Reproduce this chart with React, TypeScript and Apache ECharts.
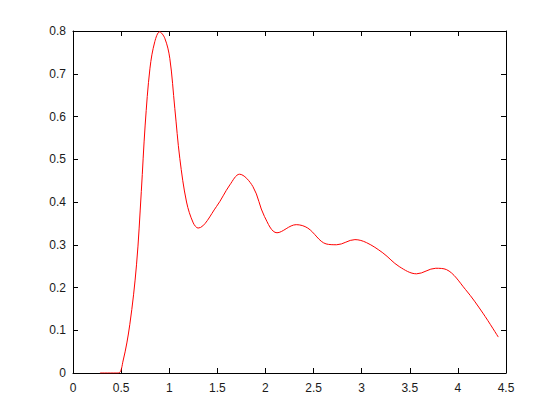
import React, { useEffect, useRef } from "react";
import * as echarts from "echarts";

// points
const xValues = [
  0.28, 0.47, 0.52, 0.59, 0.66, 0.71, 0.75, 0.8, 0.85, 0.9, 0.954, 1.006, 1.058, 1.11, 1.18, 1.25,
  1.3, 1.49, 1.63, 1.73, 1.87, 1.99, 2.12, 2.32, 2.44, 2.63, 2.74, 2.93, 3.05, 3.22, 3.39, 3.57,
  3.77, 3.88, 4.08, 4.26, 4.42,
];
const yValues = [
  0, 0, 0.028, 0.113, 0.253, 0.425, 0.58, 0.713, 0.775, 0.798, 0.783, 0.736, 0.619, 0.502, 0.4, 0.351,
  0.339, 0.389, 0.44, 0.465, 0.436, 0.366, 0.328, 0.347, 0.339, 0.302, 0.3, 0.312, 0.305, 0.281, 0.249,
  0.232, 0.245, 0.242, 0.195, 0.14, 0.084,
];
const xTicks = [0, 0.5, 1, 1.5, 2, 2.5, 3, 3.5, 4, 4.5];
const yTicks = [0, 0.1, 0.2, 0.3, 0.4, 0.5, 0.6, 0.7, 0.8];

const axisLine = { show: true, onZero: false, lineStyle: { color: "#000", width: 1 } };
const axisTick = { show: true, inside: true, length: 5, lineStyle: { color: "#000" } };
const labelStyle = { color: "#1a1a1a", fontSize: 12, fontFamily: "Liberation Sans, Arial, sans-serif" };

const App = () => {
  const chartRef = useRef<HTMLDivElement | null>(null);

  useEffect(() => {
    if (!chartRef.current) return;
    const myChart = echarts.init(chartRef.current, undefined, { renderer: "svg" });

    const xBase = {
      type: "value",
      min: xTicks[0],
      max: xTicks[xTicks.length - 1],
      interval: 0.5,
      splitLine: { show: false },
      axisLine,
      axisTick,
    };
    const yBase = {
      type: "value",
      min: yTicks[0],
      max: yTicks[yTicks.length - 1],
      interval: 0.1,
      splitLine: { show: false },
      axisLine,
      axisTick,
    };

    const option = {
      animation: false,
      backgroundColor: "#fff",
      grid: { left: 73, right: 54, top: 31, bottom: 47, containLabel: false },
      xAxis: [
        {
          ...xBase,
          position: "bottom",
          axisLabel: { ...labelStyle, margin: 9, formatter: (v: number) => String(v) },
        },
        { ...xBase, position: "top", axisLabel: { show: false } },
      ],
      yAxis: [
        {
          ...yBase,
          position: "left",
          axisLabel: { ...labelStyle, margin: 7, formatter: (v: number) => String(Math.round(v * 10) / 10) },
        },
        { ...yBase, position: "right", axisLabel: { show: false } },
      ],
      series: [
        {
          type: "line",
          data: xValues.map((x, i) => [x, yValues[i]]),
          smooth: 0.35,
          showSymbol: false,
          lineStyle: { color: "#ff0000", width: 1 },
        },
      ],
    };

    myChart.setOption(option);
    return () => {
      myChart.dispose();
    };
  }, []);

  return (
    <div
      ref={chartRef}
      style={{ position: "fixed", left: 0, top: 0, width: "560px", height: "420px" }}
    ></div>
  );
};

export default App;
